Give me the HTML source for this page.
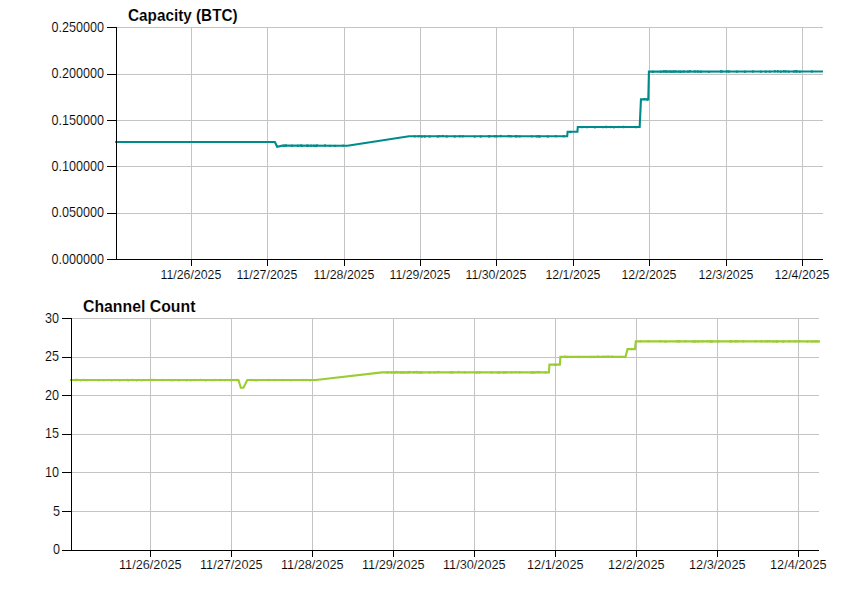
<!DOCTYPE html>
<html><head><meta charset="utf-8"><style>
html,body{margin:0;padding:0;background:#fff;width:860px;height:600px;overflow:hidden}
svg{display:block}
text{font-family:"Liberation Sans",sans-serif;fill:#000;stroke:#fff;stroke-width:0.12px}
.tt{stroke-width:0.1px}
.yl{font-size:13px;text-anchor:end}
.xl{font-size:12px;text-anchor:middle}
.tt{font-size:15px;font-weight:bold}
</style></head><body>
<svg width="860" height="600" viewBox="0 0 860 600">
<g shape-rendering="crispEdges">
<rect x="191" y="27" width="1" height="232" fill="#c4c4c4"/>
<rect x="267" y="27" width="1" height="232" fill="#c4c4c4"/>
<rect x="344" y="27" width="1" height="232" fill="#c4c4c4"/>
<rect x="420" y="27" width="1" height="232" fill="#c4c4c4"/>
<rect x="496" y="27" width="1" height="232" fill="#c4c4c4"/>
<rect x="573" y="27" width="1" height="232" fill="#c4c4c4"/>
<rect x="649" y="27" width="1" height="232" fill="#c4c4c4"/>
<rect x="726" y="27" width="1" height="232" fill="#c4c4c4"/>
<rect x="802" y="27" width="1" height="232" fill="#c4c4c4"/>
<rect x="117" y="27" width="706" height="1" fill="#c4c4c4"/>
<rect x="117" y="74" width="706" height="1" fill="#c4c4c4"/>
<rect x="117" y="120" width="706" height="1" fill="#c4c4c4"/>
<rect x="117" y="166" width="706" height="1" fill="#c4c4c4"/>
<rect x="117" y="213" width="706" height="1" fill="#c4c4c4"/>
<rect x="116" y="27" width="1" height="233" fill="#000"/>
<rect x="116" y="259" width="707" height="1" fill="#000"/>
<rect x="107" y="27" width="9" height="1" fill="#000"/>
<text transform="translate(104,32) scale(0.97,1.07)" class="yl">0.250000</text>
<rect x="107" y="74" width="9" height="1" fill="#000"/>
<text transform="translate(104,78) scale(0.97,1.07)" class="yl">0.200000</text>
<rect x="107" y="120" width="9" height="1" fill="#000"/>
<text transform="translate(104,125) scale(0.97,1.07)" class="yl">0.150000</text>
<rect x="107" y="166" width="9" height="1" fill="#000"/>
<text transform="translate(104,171) scale(0.97,1.07)" class="yl">0.100000</text>
<rect x="107" y="213" width="9" height="1" fill="#000"/>
<text transform="translate(104,217) scale(0.97,1.07)" class="yl">0.050000</text>
<rect x="107" y="259" width="9" height="1" fill="#000"/>
<text transform="translate(104,264) scale(0.97,1.07)" class="yl">0.000000</text>
<rect x="191" y="259" width="1" height="7" fill="#000"/>
<text transform="translate(190.9,279) scale(1.03,1)" class="xl">11/26/2025</text>
<rect x="267" y="259" width="1" height="7" fill="#000"/>
<text transform="translate(266.9,279) scale(1.03,1)" class="xl">11/27/2025</text>
<rect x="344" y="259" width="1" height="7" fill="#000"/>
<text transform="translate(343.9,279) scale(1.03,1)" class="xl">11/28/2025</text>
<rect x="420" y="259" width="1" height="7" fill="#000"/>
<text transform="translate(419.9,279) scale(1.03,1)" class="xl">11/29/2025</text>
<rect x="496" y="259" width="1" height="7" fill="#000"/>
<text transform="translate(495.9,279) scale(1.03,1)" class="xl">11/30/2025</text>
<rect x="573" y="259" width="1" height="7" fill="#000"/>
<text transform="translate(572.9,279) scale(1.03,1)" class="xl">12/1/2025</text>
<rect x="649" y="259" width="1" height="7" fill="#000"/>
<text transform="translate(648.9,279) scale(1.03,1)" class="xl">12/2/2025</text>
<rect x="726" y="259" width="1" height="7" fill="#000"/>
<text transform="translate(725.9,279) scale(1.03,1)" class="xl">12/3/2025</text>
<rect x="802" y="259" width="1" height="7" fill="#000"/>
<text transform="translate(801.9,279) scale(1.03,1)" class="xl">12/4/2025</text>
<text transform="translate(128,20.5) scale(1.02,1.09)" class="tt">Capacity (BTC)</text>
<rect x="150" y="318" width="1" height="232" fill="#c4c4c4"/>
<rect x="231" y="318" width="1" height="232" fill="#c4c4c4"/>
<rect x="312" y="318" width="1" height="232" fill="#c4c4c4"/>
<rect x="393" y="318" width="1" height="232" fill="#c4c4c4"/>
<rect x="474" y="318" width="1" height="232" fill="#c4c4c4"/>
<rect x="555" y="318" width="1" height="232" fill="#c4c4c4"/>
<rect x="636" y="318" width="1" height="232" fill="#c4c4c4"/>
<rect x="717" y="318" width="1" height="232" fill="#c4c4c4"/>
<rect x="798" y="318" width="1" height="232" fill="#c4c4c4"/>
<rect x="72" y="318" width="747" height="1" fill="#c4c4c4"/>
<rect x="72" y="357" width="747" height="1" fill="#c4c4c4"/>
<rect x="72" y="395" width="747" height="1" fill="#c4c4c4"/>
<rect x="72" y="434" width="747" height="1" fill="#c4c4c4"/>
<rect x="72" y="472" width="747" height="1" fill="#c4c4c4"/>
<rect x="72" y="511" width="747" height="1" fill="#c4c4c4"/>
<rect x="71" y="318" width="1" height="233" fill="#000"/>
<rect x="71" y="550" width="748" height="1" fill="#000"/>
<rect x="62" y="318" width="9" height="1" fill="#000"/>
<text transform="translate(59,323) scale(0.97,1.07)" class="yl">30</text>
<rect x="62" y="357" width="9" height="1" fill="#000"/>
<text transform="translate(59,361) scale(0.97,1.07)" class="yl">25</text>
<rect x="62" y="395" width="9" height="1" fill="#000"/>
<text transform="translate(59,400) scale(0.97,1.07)" class="yl">20</text>
<rect x="62" y="434" width="9" height="1" fill="#000"/>
<text transform="translate(59,438) scale(0.97,1.07)" class="yl">15</text>
<rect x="62" y="472" width="9" height="1" fill="#000"/>
<text transform="translate(59,477) scale(0.97,1.07)" class="yl">10</text>
<rect x="62" y="511" width="9" height="1" fill="#000"/>
<text transform="translate(60,516) scale(0.97,1.07)" class="yl">5</text>
<rect x="62" y="550" width="9" height="1" fill="#000"/>
<text transform="translate(60,554) scale(0.97,1.07)" class="yl">0</text>
<rect x="150" y="550" width="1" height="7" fill="#000"/>
<text transform="translate(150.3,569) scale(1.06,1.08)" class="xl">11/26/2025</text>
<rect x="231" y="550" width="1" height="7" fill="#000"/>
<text transform="translate(231.3,569) scale(1.06,1.08)" class="xl">11/27/2025</text>
<rect x="312" y="550" width="1" height="7" fill="#000"/>
<text transform="translate(312.3,569) scale(1.06,1.08)" class="xl">11/28/2025</text>
<rect x="393" y="550" width="1" height="7" fill="#000"/>
<text transform="translate(393.3,569) scale(1.06,1.08)" class="xl">11/29/2025</text>
<rect x="474" y="550" width="1" height="7" fill="#000"/>
<text transform="translate(474.3,569) scale(1.06,1.08)" class="xl">11/30/2025</text>
<rect x="555" y="550" width="1" height="7" fill="#000"/>
<text transform="translate(555.3,569) scale(1.06,1.08)" class="xl">12/1/2025</text>
<rect x="636" y="550" width="1" height="7" fill="#000"/>
<text transform="translate(636.3,569) scale(1.06,1.08)" class="xl">12/2/2025</text>
<rect x="717" y="550" width="1" height="7" fill="#000"/>
<text transform="translate(717.3,569) scale(1.06,1.08)" class="xl">12/3/2025</text>
<rect x="798" y="550" width="1" height="7" fill="#000"/>
<text transform="translate(798.3,569) scale(1.06,1.08)" class="xl">12/4/2025</text>
<text transform="translate(83,312) scale(1.055,1.09)" class="tt">Channel Count</text>
</g>
<path d="M115.125 142L274.901 142L277.193 146.7L282.31 145.6L347.381 145.8L409.016 136.3L567.189 136.3L567.647 131.7L577.423 131.7L577.805 127L639.668 127L640.967 99.4L648.299 99.4L648.91 71.6L822.969 71.5" fill="none" stroke="#008b8b" stroke-width="2.1" stroke-linejoin="miter"/>
<path d="M69.905 380.067L238.466 380.067L240.815 387.8L243.407 387.8L247.295 380.067L315.74 380.067L382.16 372.333L548.939 372.333L549.425 364.6L559.874 364.6L560.36 356.867L625.484 356.867L627.509 349.133L634.961 349.133L635.771 341.4L819.965 341.4" fill="none" stroke="#9acd32" stroke-width="2.1" stroke-linejoin="miter"/>
<g fill="#008b8b"><circle cx="283.982" cy="145.814" r="1.2"/><circle cx="285.982" cy="145.464" r="1.2"/><circle cx="291.982" cy="145.786" r="1.2"/><circle cx="297.982" cy="145.739" r="1.2"/><circle cx="300.982" cy="145.414" r="1.2"/><circle cx="301.982" cy="145.896" r="1.2"/><circle cx="306.982" cy="145.635" r="1.2"/><circle cx="307.982" cy="145.796" r="1.2"/><circle cx="310.982" cy="145.821" r="1.2"/><circle cx="313.982" cy="145.752" r="1.2"/><circle cx="315.982" cy="145.944" r="1.2"/><circle cx="316.982" cy="145.42" r="1.2"/><circle cx="324.982" cy="145.437" r="1.2"/><circle cx="329.982" cy="145.858" r="1.2"/><circle cx="334.982" cy="145.897" r="1.2"/><circle cx="342.982" cy="145.619" r="1.2"/><circle cx="414.712" cy="136.332" r="1.2"/><circle cx="418.712" cy="136.139" r="1.2"/><circle cx="421.712" cy="136.457" r="1.2"/><circle cx="424.712" cy="136.556" r="1.2"/><circle cx="429.712" cy="136.503" r="1.2"/><circle cx="437.712" cy="136.553" r="1.2"/><circle cx="439.712" cy="136.112" r="1.2"/><circle cx="442.712" cy="136.073" r="1.2"/><circle cx="446.712" cy="136.537" r="1.2"/><circle cx="454.712" cy="136.562" r="1.2"/><circle cx="459.712" cy="136.305" r="1.2"/><circle cx="462.712" cy="136.182" r="1.2"/><circle cx="474.712" cy="136.584" r="1.2"/><circle cx="480.712" cy="136.508" r="1.2"/><circle cx="488.712" cy="136.236" r="1.2"/><circle cx="489.712" cy="136.288" r="1.2"/><circle cx="494.712" cy="136.249" r="1.2"/><circle cx="496.712" cy="136.22" r="1.2"/><circle cx="500.712" cy="136.052" r="1.2"/><circle cx="508.712" cy="136.065" r="1.2"/><circle cx="510.712" cy="136.313" r="1.2"/><circle cx="515.712" cy="136.222" r="1.2"/><circle cx="516.712" cy="136.282" r="1.2"/><circle cx="519.712" cy="136.422" r="1.2"/><circle cx="531.712" cy="136.356" r="1.2"/><circle cx="536.712" cy="136.388" r="1.2"/><circle cx="538.712" cy="136.301" r="1.2"/><circle cx="539.712" cy="136.462" r="1.2"/><circle cx="547.712" cy="136.552" r="1.2"/><circle cx="555.712" cy="136.139" r="1.2"/><circle cx="563.712" cy="136.206" r="1.2"/><circle cx="570.413" cy="131.946" r="1.2"/><circle cx="581.849" cy="127.138" r="1.2"/><circle cx="586.849" cy="127.17" r="1.2"/><circle cx="594.849" cy="127.185" r="1.2"/><circle cx="602.849" cy="127.166" r="1.2"/><circle cx="605.849" cy="126.956" r="1.2"/><circle cx="606.849" cy="126.989" r="1.2"/><circle cx="610.849" cy="127.042" r="1.2"/><circle cx="613.849" cy="127.265" r="1.2"/><circle cx="618.849" cy="126.991" r="1.2"/><circle cx="622.849" cy="126.949" r="1.2"/><circle cx="623.849" cy="127.023" r="1.2"/><circle cx="635.849" cy="127.172" r="1.2"/><circle cx="644.258" cy="99.117" r="1.2"/><circle cx="647.258" cy="99.481" r="1.2"/><circle cx="652.832" cy="71.814" r="1.2"/><circle cx="660.832" cy="71.771" r="1.2"/><circle cx="663.832" cy="71.311" r="1.2"/><circle cx="665.832" cy="71.34" r="1.2"/><circle cx="666.832" cy="71.562" r="1.2"/><circle cx="669.832" cy="71.438" r="1.2"/><circle cx="671.832" cy="71.765" r="1.2"/><circle cx="673.832" cy="71.492" r="1.2"/><circle cx="675.832" cy="71.385" r="1.2"/><circle cx="678.832" cy="71.599" r="1.2"/><circle cx="680.832" cy="71.676" r="1.2"/><circle cx="683.832" cy="71.553" r="1.2"/><circle cx="687.832" cy="71.576" r="1.2"/><circle cx="689.832" cy="71.291" r="1.2"/><circle cx="694.832" cy="71.48" r="1.2"/><circle cx="697.832" cy="71.427" r="1.2"/><circle cx="700.832" cy="71.81" r="1.2"/><circle cx="708.832" cy="71.852" r="1.2"/><circle cx="720.832" cy="71.518" r="1.2"/><circle cx="721.832" cy="71.393" r="1.2"/><circle cx="726.832" cy="71.343" r="1.2"/><circle cx="728.832" cy="71.521" r="1.2"/><circle cx="736.832" cy="71.656" r="1.2"/><circle cx="744.832" cy="71.744" r="1.2"/><circle cx="752.832" cy="71.511" r="1.2"/><circle cx="760.832" cy="71.625" r="1.2"/><circle cx="765.832" cy="71.638" r="1.2"/><circle cx="769.832" cy="71.626" r="1.2"/><circle cx="774.832" cy="71.263" r="1.2"/><circle cx="777.832" cy="71.301" r="1.2"/><circle cx="780.832" cy="71.75" r="1.2"/><circle cx="783.832" cy="71.265" r="1.2"/><circle cx="785.832" cy="71.408" r="1.2"/><circle cx="788.832" cy="71.666" r="1.2"/><circle cx="793.832" cy="71.556" r="1.2"/><circle cx="795.832" cy="71.221" r="1.2"/><circle cx="796.832" cy="71.569" r="1.2"/><circle cx="799.832" cy="71.791" r="1.2"/><circle cx="811.832" cy="71.483" r="1.2"/></g><g fill="#9acd32"><circle cx="75.685" cy="380.335" r="1.2"/><circle cx="76.685" cy="379.822" r="1.2"/><circle cx="80.685" cy="380.268" r="1.2"/><circle cx="83.685" cy="379.918" r="1.2"/><circle cx="86.685" cy="380.131" r="1.2"/><circle cx="98.685" cy="380.175" r="1.2"/><circle cx="103.685" cy="380.15" r="1.2"/><circle cx="111.685" cy="380.336" r="1.2"/><circle cx="119.685" cy="380.328" r="1.2"/><circle cx="127.685" cy="379.928" r="1.2"/><circle cx="128.685" cy="380.289" r="1.2"/><circle cx="132.685" cy="380.046" r="1.2"/><circle cx="136.685" cy="380.311" r="1.2"/><circle cx="141.685" cy="380.302" r="1.2"/><circle cx="149.685" cy="379.865" r="1.2"/><circle cx="151.685" cy="379.908" r="1.2"/><circle cx="152.685" cy="379.873" r="1.2"/><circle cx="154.685" cy="379.849" r="1.2"/><circle cx="162.685" cy="379.982" r="1.2"/><circle cx="170.685" cy="380.171" r="1.2"/><circle cx="172.685" cy="380.364" r="1.2"/><circle cx="178.685" cy="380.245" r="1.2"/><circle cx="186.685" cy="380.311" r="1.2"/><circle cx="190.685" cy="380.241" r="1.2"/><circle cx="194.685" cy="379.984" r="1.2"/><circle cx="200.685" cy="379.863" r="1.2"/><circle cx="205.685" cy="380.196" r="1.2"/><circle cx="211.685" cy="380.16" r="1.2"/><circle cx="214.685" cy="380.061" r="1.2"/><circle cx="220.685" cy="380.067" r="1.2"/><circle cx="224.685" cy="380.164" r="1.2"/><circle cx="230.685" cy="380.306" r="1.2"/><circle cx="236.685" cy="379.977" r="1.2"/><circle cx="251.914" cy="380.059" r="1.2"/><circle cx="254.914" cy="380.331" r="1.2"/><circle cx="256.914" cy="380.293" r="1.2"/><circle cx="268.914" cy="379.928" r="1.2"/><circle cx="274.914" cy="379.952" r="1.2"/><circle cx="282.914" cy="380.104" r="1.2"/><circle cx="290.914" cy="380.158" r="1.2"/><circle cx="302.914" cy="380.011" r="1.2"/><circle cx="305.914" cy="380.06" r="1.2"/><circle cx="309.914" cy="380.327" r="1.2"/><circle cx="387.57" cy="372.504" r="1.2"/><circle cx="391.57" cy="372.469" r="1.2"/><circle cx="394.57" cy="372.632" r="1.2"/><circle cx="396.57" cy="372.069" r="1.2"/><circle cx="397.57" cy="372.197" r="1.2"/><circle cx="400.57" cy="372.443" r="1.2"/><circle cx="402.57" cy="372.486" r="1.2"/><circle cx="404.57" cy="372.546" r="1.2"/><circle cx="407.57" cy="372.528" r="1.2"/><circle cx="408.57" cy="372.287" r="1.2"/><circle cx="409.57" cy="372.067" r="1.2"/><circle cx="413.57" cy="372.136" r="1.2"/><circle cx="414.57" cy="372.083" r="1.2"/><circle cx="416.57" cy="372.049" r="1.2"/><circle cx="417.57" cy="372.257" r="1.2"/><circle cx="419.57" cy="372.521" r="1.2"/><circle cx="421.57" cy="372.474" r="1.2"/><circle cx="429.57" cy="372.448" r="1.2"/><circle cx="434.57" cy="372.387" r="1.2"/><circle cx="437.57" cy="372.124" r="1.2"/><circle cx="438.57" cy="372.036" r="1.2"/><circle cx="450.57" cy="372.41" r="1.2"/><circle cx="452.57" cy="372.205" r="1.2"/><circle cx="458.57" cy="372.052" r="1.2"/><circle cx="464.57" cy="372.364" r="1.2"/><circle cx="476.57" cy="372.477" r="1.2"/><circle cx="479.57" cy="372.487" r="1.2"/><circle cx="491.57" cy="372.457" r="1.2"/><circle cx="497.57" cy="372.609" r="1.2"/><circle cx="499.57" cy="372.43" r="1.2"/><circle cx="503.57" cy="372.536" r="1.2"/><circle cx="504.57" cy="372.302" r="1.2"/><circle cx="506.57" cy="372.344" r="1.2"/><circle cx="511.57" cy="372.325" r="1.2"/><circle cx="515.57" cy="372.12" r="1.2"/><circle cx="519.57" cy="372.189" r="1.2"/><circle cx="531.57" cy="372.616" r="1.2"/><circle cx="532.57" cy="372.453" r="1.2"/><circle cx="534.57" cy="372.436" r="1.2"/><circle cx="537.57" cy="372.053" r="1.2"/><circle cx="539.57" cy="372.136" r="1.2"/><circle cx="545.57" cy="372.414" r="1.2"/><circle cx="555.007" cy="364.725" r="1.2"/><circle cx="556.007" cy="364.897" r="1.2"/><circle cx="564.929" cy="356.611" r="1.2"/><circle cx="566.929" cy="356.921" r="1.2"/><circle cx="578.929" cy="357.042" r="1.2"/><circle cx="590.929" cy="356.992" r="1.2"/><circle cx="593.929" cy="356.977" r="1.2"/><circle cx="596.929" cy="356.882" r="1.2"/><circle cx="597.929" cy="356.657" r="1.2"/><circle cx="602.929" cy="356.812" r="1.2"/><circle cx="604.929" cy="356.874" r="1.2"/><circle cx="606.929" cy="356.711" r="1.2"/><circle cx="608.929" cy="356.579" r="1.2"/><circle cx="611.929" cy="356.63" r="1.2"/><circle cx="612.929" cy="356.879" r="1.2"/><circle cx="618.929" cy="356.839" r="1.2"/><circle cx="631.718" cy="348.961" r="1.2"/><circle cx="640.416" cy="341.36" r="1.2"/><circle cx="648.416" cy="341.113" r="1.2"/><circle cx="660.416" cy="341.131" r="1.2"/><circle cx="665.416" cy="341.657" r="1.2"/><circle cx="677.416" cy="341.209" r="1.2"/><circle cx="679.416" cy="341.498" r="1.2"/><circle cx="685.416" cy="341.32" r="1.2"/><circle cx="693.416" cy="341.676" r="1.2"/><circle cx="695.416" cy="341.466" r="1.2"/><circle cx="698.416" cy="341.514" r="1.2"/><circle cx="702.416" cy="341.285" r="1.2"/><circle cx="707.416" cy="341.161" r="1.2"/><circle cx="710.416" cy="341.219" r="1.2"/><circle cx="711.416" cy="341.587" r="1.2"/><circle cx="712.416" cy="341.346" r="1.2"/><circle cx="718.416" cy="341.378" r="1.2"/><circle cx="730.416" cy="341.468" r="1.2"/><circle cx="731.416" cy="341.271" r="1.2"/><circle cx="735.416" cy="341.283" r="1.2"/><circle cx="737.416" cy="341.231" r="1.2"/><circle cx="743.416" cy="341.215" r="1.2"/><circle cx="755.416" cy="341.324" r="1.2"/><circle cx="761.416" cy="341.184" r="1.2"/><circle cx="765.416" cy="341.337" r="1.2"/><circle cx="767.416" cy="341.252" r="1.2"/><circle cx="769.416" cy="341.148" r="1.2"/><circle cx="773.416" cy="341.485" r="1.2"/><circle cx="776.416" cy="341.516" r="1.2"/><circle cx="777.416" cy="341.471" r="1.2"/><circle cx="783.416" cy="341.566" r="1.2"/><circle cx="789.416" cy="341.274" r="1.2"/><circle cx="795.416" cy="341.185" r="1.2"/><circle cx="799.416" cy="341.261" r="1.2"/><circle cx="807.416" cy="341.619" r="1.2"/><circle cx="812.416" cy="341.659" r="1.2"/><circle cx="815.416" cy="341.337" r="1.2"/><circle cx="817.416" cy="341.393" r="1.2"/></g>
<g shape-rendering="crispEdges" fill="#000">
<rect x="116" y="27" width="1" height="233"/><rect x="71" y="318" width="1" height="233"/>
</g>
</svg>
</body></html>
